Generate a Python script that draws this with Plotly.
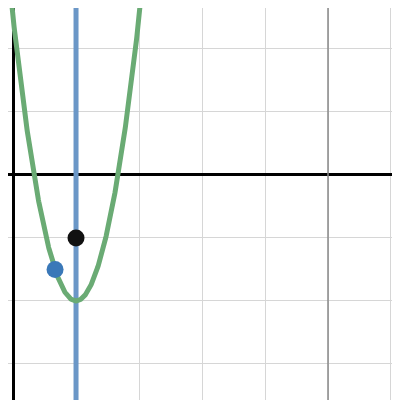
import numpy as np
import plotly.graph_objects as go

# parabola y = a*(x-h)^2 + k
a, h, k = 4.5, 1.0, -2.0
vline_x = [1.0]
black_pt = ([1.0], [-1.0])
blue_pt = ([0.667], [-1.5])

xs = np.linspace(-0.2, 2.2, 400)
ys = a * (xs - h) ** 2 + k

fig = go.Figure()
fig.add_trace(go.Scatter(x=[vline_x[0]] * 2, y=[-10, 10], mode="lines",
                         line=dict(color="#6b97c7", width=5)))
fig.add_trace(go.Scatter(x=xs, y=ys, mode="lines", line=dict(color="#6aab74", width=5)))
fig.add_trace(go.Scatter(x=black_pt[0], y=black_pt[1], mode="markers",
                         marker=dict(color="#111111", size=17)))
fig.add_trace(go.Scatter(x=blue_pt[0], y=blue_pt[1], mode="markers",
                         marker=dict(color="#3a78b8", size=17)))
# major gridline at x=5
fig.add_shape(type="line", x0=5, x1=5, y0=-10, y1=10, line=dict(color="#888888", width=1.5))

fig.update_layout(width=400, height=400, margin=dict(l=0, r=0, t=0, b=0),
                  plot_bgcolor="white", paper_bgcolor="white", showlegend=False)
fig.update_xaxes(range=[-0.08, 6.27], dtick=1, showgrid=True, gridcolor="#d6d6d6",
                 zeroline=True, zerolinecolor="black", zerolinewidth=2.5,
                 showticklabels=False)
fig.update_yaxes(range=[-3.70, 2.65], dtick=1, showgrid=True, gridcolor="#d6d6d6",
                 zeroline=True, zerolinecolor="black", zerolinewidth=2.5,
                 showticklabels=False)
fig.write_html("out.html")
